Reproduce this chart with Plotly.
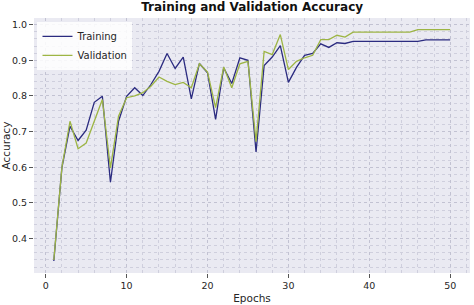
import plotly.graph_objects as go

epochs = list(range(1, 51))
training = [0.337, 0.599, 0.715, 0.675, 0.704, 0.782, 0.799, 0.558, 0.729, 0.799,
            0.823, 0.801, 0.832, 0.869, 0.919, 0.877, 0.909, 0.792, 0.891, 0.865,
            0.734, 0.879, 0.835, 0.907, 0.900, 0.643, 0.885, 0.909, 0.941, 0.838,
            0.880, 0.914, 0.919, 0.946, 0.936, 0.949, 0.947, 0.953, 0.953, 0.953,
            0.953, 0.953, 0.953, 0.953, 0.953, 0.953, 0.957, 0.957, 0.957, 0.957]
validation = [0.340, 0.600, 0.729, 0.652, 0.668, 0.730, 0.790, 0.598, 0.743, 0.795,
              0.800, 0.809, 0.827, 0.853, 0.841, 0.832, 0.838, 0.823, 0.890, 0.867,
              0.767, 0.881, 0.823, 0.890, 0.897, 0.672, 0.925, 0.916, 0.972, 0.874,
              0.897, 0.907, 0.914, 0.958, 0.958, 0.970, 0.965, 0.979, 0.979, 0.979,
              0.979, 0.979, 0.979, 0.979, 0.979, 0.986, 0.986, 0.986, 0.986, 0.986]

x_ticks = [0, 10, 20, 30, 40, 50]
y_ticks = [0.4, 0.5, 0.6, 0.7, 0.8, 0.9, 1.0]

fig = go.Figure()
fig.add_trace(go.Scatter(x=epochs, y=training, mode="lines", name="Training",
                         line=dict(color="#2b2b80", width=1.3)))
fig.add_trace(go.Scatter(x=epochs, y=validation, mode="lines", name="Validation",
                         line=dict(color="#9db544", width=1.3)))

grid_major = "#c2c2d2"
grid_minor = "#cfcfdd"
font_family = "DejaVu Sans"

fig.update_layout(
    width=474, height=305,
    margin=dict(l=34, r=4, t=18, b=32),
    paper_bgcolor="white",
    plot_bgcolor="#eaeaf2",
    font=dict(family=font_family, size=10, color="#262626"),
    title=dict(text="<b>Training and Validation Accuracy</b>", x=0.532, xanchor="center",
               y=0.979, yanchor="middle", yref="container",
               font=dict(family=font_family, size=12, color="#111111")),
    legend=dict(x=0.008, y=0.985, xanchor="left", yanchor="top",
                bgcolor="rgba(255,255,255,0.85)", borderwidth=0,
                font=dict(size=10, color="#262626"),
                tracegroupgap=0, itemwidth=30),
    showlegend=True,
)
fig.update_xaxes(
    range=[-1.45, 52.45], tickvals=x_ticks, ticks="outside", ticklen=4, tickwidth=1,
    tickcolor="#555555", showline=False, zeroline=False, automargin=False,
    showgrid=True, gridcolor=grid_major, griddash="dot", gridwidth=1,
    minor=dict(dtick=2, tick0=0, showgrid=True, gridcolor=grid_minor, griddash="dot", gridwidth=1),
    title=dict(text="Epochs", standoff=4, font=dict(size=10.5)),
    tickfont=dict(size=9.5),
)
fig.update_yaxes(
    range=[0.3035, 1.0185], tickvals=y_ticks, tickformat=".1f", ticks="outside", ticklen=4,
    tickwidth=1, tickcolor="#555555", showline=False, zeroline=False, automargin=False,
    showgrid=True, gridcolor=grid_major, griddash="dot", gridwidth=1,
    minor=dict(dtick=0.02, tick0=0, showgrid=True, gridcolor=grid_minor, griddash="dot", gridwidth=1),
    title=dict(text="Accuracy", standoff=4, font=dict(size=10.5)),
    tickfont=dict(size=9.5),
)

fig.write_html("out.html")
